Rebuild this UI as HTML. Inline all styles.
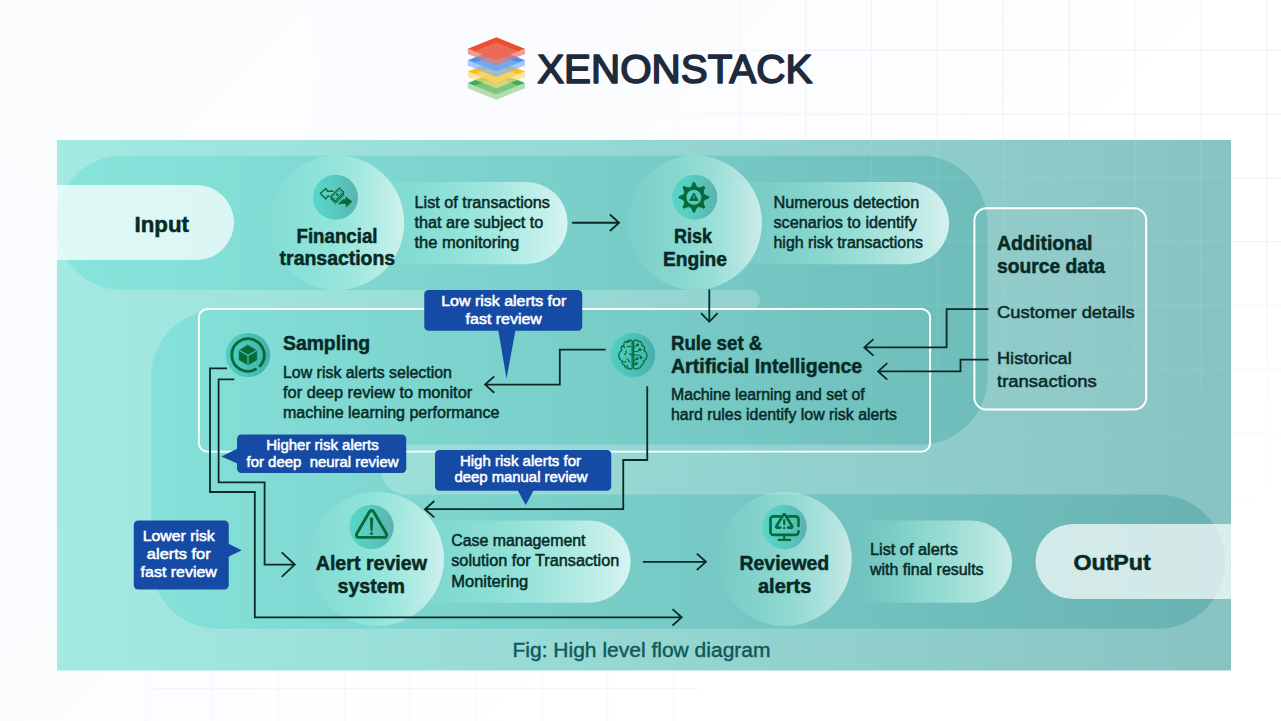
<!DOCTYPE html>
<html lang="en">
<head>
<meta charset="utf-8">
<title>High level flow diagram</title>
<style>
  html, body { margin: 0; padding: 0; }
  body { width: 1281px; height: 721px; overflow: hidden; background: linear-gradient(135deg, #f9fbfe 0%, #fbfcfe 35%, #ffffff 62%, #ffffff 100%); font-family: "Liberation Sans", sans-serif; }
  svg { display: block; position: absolute; left: 0; top: 0; }
  text { font-family: "Liberation Sans", sans-serif; }
  .h { font-weight: bold; font-size: 19.8px; fill: #072a27; stroke: #072a27; stroke-width: 0.5px; }
  .d { font-size: 15.6px; fill: #072b28; stroke: #072b28; stroke-width: 0.5px; }
  .s { font-size: 17.2px; fill: #072b28; stroke: #072b28; stroke-width: 0.5px; }
  .c { font-size: 15.2px; fill: #ffffff; stroke: #ffffff; stroke-width: 0.55px; }
  .io { font-weight: bold; font-size: 21.5px; fill: #072a27; stroke: #072a27; stroke-width: 0.5px; }
  .ln { fill: none; stroke: #0b2a27; stroke-width: 1.8; stroke-linejoin: miter; }
  .ic { fill: none; stroke: #066a39; stroke-linecap: round; stroke-linejoin: round; }
</style>
</head>
<body>
<svg width="1281" height="721" viewBox="0 0 1281 721">
  <defs>
    <linearGradient id="gPanel" gradientUnits="userSpaceOnUse" x1="57" y1="0" x2="1231" y2="0">
      <stop offset="0" stop-color="#a3eae2"/>
      <stop offset="1" stop-color="#88c3c2"/>
    </linearGradient>
    <linearGradient id="gBand" gradientUnits="userSpaceOnUse" x1="57" y1="0" x2="1231" y2="0">
      <stop offset="0" stop-color="#87e5dc"/>
      <stop offset="1" stop-color="#68b2b1"/>
    </linearGradient>
    <linearGradient id="gNode" x1="0" y1="0" x2="1" y2="0">
      <stop offset="0" stop-color="#b9ffee" stop-opacity="0.04"/>
      <stop offset="0.45" stop-color="#b9ffee" stop-opacity="0.3"/>
      <stop offset="1" stop-color="#ffffff" stop-opacity="0.62"/>
    </linearGradient>
    <linearGradient id="gPill" x1="0" y1="0" x2="1" y2="0">
      <stop offset="0" stop-color="#98f5e0" stop-opacity="0"/>
      <stop offset="0.22" stop-color="#98f5e0" stop-opacity="0.1"/>
      <stop offset="0.6" stop-color="#bffcef" stop-opacity="0.44"/>
      <stop offset="1" stop-color="#f4fffd" stop-opacity="0.78"/>
    </linearGradient>
    <linearGradient id="gIcon" x1="0" y1="0" x2="1" y2="0">
      <stop offset="0" stop-color="#58d6c8"/>
      <stop offset="0.45" stop-color="#58cbc0"/>
      <stop offset="1" stop-color="#5bb3ae"/>
    </linearGradient>
    <linearGradient id="gIcon2" x1="0" y1="0" x2="1" y2="0">
      <stop offset="0" stop-color="#50cfc2"/>
      <stop offset="0.45" stop-color="#4bc4b9"/>
      <stop offset="1" stop-color="#44b0aa"/>
    </linearGradient>
    <linearGradient id="gPill4" x1="0" y1="0" x2="1" y2="0">
      <stop offset="0" stop-color="#98f5e0" stop-opacity="0"/>
      <stop offset="0.32" stop-color="#98f5e0" stop-opacity="0"/>
      <stop offset="0.62" stop-color="#b4fbea" stop-opacity="0.42"/>
      <stop offset="1" stop-color="#effffb" stop-opacity="0.72"/>
    </linearGradient>
    <clipPath id="cpPanel"><rect x="57" y="140" width="1174" height="530.5"/></clipPath>
  </defs>

  <!-- faint page grid -->
  <defs>
    <radialGradient id="gGridFade" gradientUnits="userSpaceOnUse" cx="1060" cy="90" r="470">
      <stop offset="0" stop-color="#fff" stop-opacity="1"/>
      <stop offset="0.6" stop-color="#fff" stop-opacity="0.8"/>
      <stop offset="1" stop-color="#fff" stop-opacity="0"/>
    </radialGradient>
    <mask id="mGrid"><rect x="0" y="0" width="1281" height="721" fill="url(#gGridFade)"/></mask>
  </defs>
  <g stroke="#eef2fb" stroke-width="1.2" fill="none" mask="url(#mGrid)">
    <path d="M146.6 0V721M212.5 0V721M278.4 0V721M344.3 0V721M410.2 0V721M476.1 0V721M542.0 0V721M607.9 0V721M673.8 0V721M739.7 0V721M805.6 0V721M871.5 0V721M937.4 0V721M1003.3 0V721M1069.2 0V721M1135.1 0V721M1201.0 0V721M1266.9 0V721"/>
    <path d="M0 50.1H1281M0 114.0H1281M0 177.8H1281M0 241.7H1281M0 305.5H1281M0 369.4H1281M0 433.2H1281M0 497.1H1281M0 560.9H1281M0 624.8H1281M0 688.6H1281"/>
  </g>

  <g stroke="#f3f6fc" stroke-width="1" fill="none">
    <path d="M146.6 671V721M212.5 671V721M278.4 671V721M344.3 671V721M410.2 671V721M476.1 671V721M542.0 671V721M607.9 671V721M673.8 671V721M148 688.6H700"/>
  </g>
  <circle cx="150" cy="70" r="170" fill="#ffffff" fill-opacity="0.4"/>
  <!-- panel -->
  <rect x="57" y="140" width="1174" height="530.5" fill="url(#gPanel)"/>

  <g clip-path="url(#cpPanel)">
    <!-- snake band -->
    <path fill="url(#gBand)" d="M122.75 155.75 H920.5 A67 67 0 0 1 987.5 222.75 V377.5 A67 67 0 0 1 920.5 444.5 H406 A25 25 0 0 0 406 494.5 H1158 A67.1 67.1 0 0 1 1158 628.75 H218 A67 67 0 0 1 151 561.75 V377 A67 67 0 0 1 218 310 H750 A10 10 0 0 0 750 290 H122.75 A67.1 67.1 0 0 1 122.75 155.75 Z"/>

    <!-- description pills -->
    <path fill="url(#gPill)" d="M337 182 H526.5 A41.1 41.1 0 0 1 526.5 264.25 H337 Z"/>
    <path fill="url(#gPill)" d="M694 182 H908 A41.1 41.1 0 0 1 908 264.25 H694 Z"/>
    <path fill="url(#gPill)" d="M377 520.5 H589.5 A41.1 41.1 0 0 1 589.5 602.75 H377 Z"/>
    <path fill="url(#gPill4)" d="M785 520.5 H971 A41.1 41.1 0 0 1 971 602.75 H785 Z"/>

    <!-- node circles -->
    <circle cx="337" cy="222.75" r="67.2" fill="url(#gNode)"/>
    <circle cx="694.75" cy="222.75" r="67.2" fill="url(#gNode)"/>
    <circle cx="377" cy="559" r="67" fill="url(#gNode)"/>
    <circle cx="784.75" cy="559" r="67" fill="url(#gNode)"/>

    <!-- input / output pills -->
    <path fill="#ffffff" fill-opacity="0.72" d="M50 185 H196.5 A37.5 37.5 0 0 1 196.5 260 H50 Z"/>
    <path fill="#ffffff" fill-opacity="0.7" d="M1240 524 H1073 A37.5 37.5 0 0 0 1073 599 H1240 Z"/>
  </g>

  <defs>
    <radialGradient id="gGridFade2" gradientUnits="userSpaceOnUse" cx="1120" cy="140" r="420">
      <stop offset="0" stop-color="#fff" stop-opacity="1"/>
      <stop offset="0.5" stop-color="#fff" stop-opacity="0.8"/>
      <stop offset="1" stop-color="#fff" stop-opacity="0"/>
    </radialGradient>
    <mask id="mGrid2"><rect x="57" y="140" width="1174" height="530.5" fill="url(#gGridFade2)"/></mask>
  </defs>
  <g stroke="#c8f4f4" stroke-opacity="0.13" stroke-width="1.3" fill="none" mask="url(#mGrid2)">
    <path d="M146.6 0V721M212.5 0V721M278.4 0V721M344.3 0V721M410.2 0V721M476.1 0V721M542.0 0V721M607.9 0V721M673.8 0V721M739.7 0V721M805.6 0V721M871.5 0V721M937.4 0V721M1003.3 0V721M1069.2 0V721M1135.1 0V721M1201.0 0V721M1266.9 0V721"/>
    <path d="M0 50.1H1281M0 114.0H1281M0 177.8H1281M0 241.7H1281M0 305.5H1281M0 369.4H1281M0 433.2H1281M0 497.1H1281M0 560.9H1281M0 624.8H1281M0 688.6H1281"/>
  </g>
  <!-- boxes -->
  <rect x="198.9" y="309" width="731.2" height="142.6" rx="8.5" ry="8.5" fill="none" stroke="#ffffff" stroke-width="1.9"/>
  <rect x="974.4" y="208.2" width="171.8" height="201.3" rx="12" ry="12" fill="#ffffff" fill-opacity="0.035" stroke="#ffffff" stroke-width="2"/>

  <circle cx="335.5" cy="197.3" r="22.5" fill="url(#gIcon)"/>
  <circle cx="694.7" cy="197.3" r="22.5" fill="url(#gIcon)"/>
  <circle cx="248" cy="355" r="22.1" fill="url(#gIcon2)"/>
  <circle cx="633" cy="355" r="22.1" fill="url(#gIcon2)"/>
  <circle cx="371.5" cy="527" r="22.2" fill="url(#gIcon)"/>
  <circle cx="784.5" cy="527" r="22.2" fill="url(#gIcon)"/>
  <g class="ic" stroke-width="1.4">
    <path d="M333 191.3 H327.6 L325.9 188.4 L320.3 193.5 L325.9 199 L327.6 196.2 H329.2"/>
    <path d="M338.6 203.7 L343 199.5 H345.7 V196.9 L351.9 201.6 L346.2 207.1 L346 203.7 Z" fill="#066a39" stroke-width="0.6"/>
    <g transform="translate(337.2 194.6)">
      <g transform="translate(0.5 2.7) rotate(-45.5)"><rect x="-6.2" y="-3.1" width="12.4" height="6.2" rx="0.5" fill="#57cbc0" stroke-width="0.9"/></g>
      <g transform="translate(0.25 1.35) rotate(-45.5)"><rect x="-6.2" y="-3.1" width="12.4" height="6.2" rx="0.5" fill="#57cbc0" stroke-width="0.9"/></g>
      <g transform="rotate(-45.5)">
        <rect x="-6.2" y="-3.1" width="12.4" height="6.2" rx="0.5" fill="#57cbc0" stroke-width="1.25"/>
        <rect x="-4.3" y="-1.6" width="8.6" height="3.2" stroke-width="0.6" stroke-opacity="0.85"/>
        <circle cx="0" cy="0" r="1.2" fill="#066a39" stroke="none"/>
      </g>
    </g>
  </g>
  <path d="M693.25 182.41 L694.55 182.41 Q695.41 185.80 697.77 187.97 Q700.96 188.10 703.97 186.31 L704.89 187.23 Q703.10 190.24 703.23 193.43 Q705.40 195.79 708.79 196.65 L708.79 197.95 Q705.40 198.81 703.23 201.17 Q703.10 204.36 704.89 207.37 L703.97 208.29 Q700.96 206.50 697.77 206.63 Q695.41 208.80 694.55 212.19 L693.25 212.19 Q692.39 208.80 690.03 206.63 Q686.84 206.50 683.83 208.29 L682.91 207.37 Q684.70 204.36 684.57 201.17 Q682.40 198.81 679.01 197.95 L679.01 196.65 Q682.40 195.79 684.57 193.43 Q684.70 190.24 682.91 187.23 L683.83 186.31 Q686.84 188.10 690.03 187.97 Q692.39 185.80 693.25 182.41 Z M701.80 197.30 A7.9 7.9 0 1 0 686.00 197.30 A7.9 7.9 0 1 0 701.80 197.30 Z" fill="#066a39" fill-rule="evenodd" stroke="#066a39" stroke-width="0.9" stroke-linejoin="round"/>
  <path d="M693.90 193.00 L698.20 200.40 H689.60 Z" fill="#066a39" stroke="#066a39" stroke-width="1" stroke-linejoin="round"/>
  <path d="M693.90 195.10 V198.90" stroke="#4fae8c" stroke-width="1.1" fill="none"/>
  <g class="ic">
    <path d="M255.6 369.3 A16.2 16.2 0 1 1 260.04 365.84" stroke-width="2.8"/>
    <path d="M247.6 345.3 L256.8 350.5 V359.9 L248 365.1 L239.2 359.9 V350.5 Z" fill="#066a39" stroke-width="0.6"/>
    <path d="M239.2 350.3 L248 355.4 L256.8 350.3 M248 355.4 V365.3" stroke="#4ec6bb" stroke-width="1.1" stroke-linecap="butt"/>
  </g>
  <g class="ic" stroke-width="1.25">
    <path d="M632.15 340.90 A3.4 3.4 0 0 0 627.31 341.60 A2.8 2.8 0 0 0 623.96 345.30 A2.9 2.9 0 0 0 622.06 350.30 A6.0 6.0 0 0 0 622.41 361.10 A2.6 2.6 0 0 0 624.64 365.00 A2.6 2.6 0 0 0 627.74 368.10 A3.1 3.1 0 0 0 632.15 368.30 Z"/>
    <path d="M633.65 340.90 A3.4 3.4 0 0 1 638.49 341.60 A2.8 2.8 0 0 1 641.84 345.30 A2.9 2.9 0 0 1 643.74 350.30 A6.0 6.0 0 0 1 643.39 361.10 A2.6 2.6 0 0 1 641.16 365.00 A2.6 2.6 0 0 1 638.06 368.10 A3.1 3.1 0 0 1 633.65 368.30 Z"/>
    <path d="M626.8 342.6 q1.2 -1.6 2.8 -0.8 M627.2 346.2 q1.6 0.8 3.2 0 M622.8 346.6 q1.5 -0.3 2.2 1.1 M626.2 350.8 q0.5 2.4 -1.5 3.8 M629.6 353.6 q1.3 1.5 2.8 1.3 M626.8 359 q2 0.6 2.8 3.2 M623.6 362 q1.5 0.3 2.4 -0.5 M626 366 q1.4 -0.1 2 1.1"/>
    <path d="M633.7 347.2 q2.4 -0.6 3.2 -2.2 M633.7 351.5 h3.2 q1.5 0 2.1 -1.4 M633.7 355 h5 q1.3 0 1.9 1.6 M633.7 360.3 q1.9 -0.2 2.7 -1.2 M633.7 364.6 q1.5 -0.1 2.1 -0.9" stroke-width="1.1"/>
    <circle cx="637.6" cy="344.7" r="0.9"/><circle cx="640" cy="349.5" r="0.9"/><circle cx="641" cy="357.6" r="0.9"/><circle cx="637.1" cy="358.6" r="0.9"/><circle cx="636.4" cy="363.4" r="0.9"/>
  </g>
  <g class="ic">
    <path d="M358.80 537.35 H384.30 A2.4 2.4 0 0 0 386.38 533.75 L373.63 511.67 A2.4 2.4 0 0 0 369.47 511.67 L356.72 533.75 A2.4 2.4 0 0 0 358.80 537.35 Z" stroke-width="2.9"/>
    <path d="M370.5 518.2 H372.6 L371.95 530.6 H371.15 Z" fill="#066a39" stroke-width="1.3"/>
    <circle cx="371.55" cy="533.5" r="1.55" fill="#066a39" stroke="none"/>
  </g>
  <g class="ic" stroke-width="2.6">
    <path d="M780.2 516.4 H773.4 A2.9 2.9 0 0 0 770.5 519.3 V532 A2.9 2.9 0 0 0 773.4 534.9 H795.6 A2.9 2.9 0 0 0 798.5 532 V531.2 M798.5 525.9 V519.3 A2.9 2.9 0 0 0 795.6 516.4 H788.3"/>
    <path d="M780.3 527.6 H777 A0.9 0.9 0 0 1 776.3 526.3 L783.4 514.8 A0.95 0.95 0 0 1 785 514.8 L792.2 526.3 A0.9 0.9 0 0 1 791.5 527.6 H788.2"/>
    <path d="M784.2 520 V524.2" stroke-width="2.2"/>
    <circle cx="784.2" cy="527.9" r="1.2" fill="#066a39" stroke="none"/>
    <path d="M784.2 535 V539.8 M778.6 539.9 H790.2" stroke-width="2.2"/>
  </g>
  <g class="ln">
    <path d="M572.1 222.75 H619.1 M609.9 214.5 L619.1 222.75 L609.9 231"/>
    <path d="M709.3 289.5 V321.8 M701 313.2 L709.3 321.8 L717.6 313.2"/>
    <path d="M988.6 309.1 H946.6 V347.4 H864.3 M873.5 339.2 L864.3 347.4 L873.5 355.6"/>
    <path d="M988.6 359.7 H960.5 V371.4 H878.1 M887.3 363.2 L878.1 371.4 L887.3 379.6"/>
    <path d="M605.6 349.7 H559.8 V384.6 H485 M494.3 376.4 L485 384.6 L494.3 392.8"/>
    <path d="M647.25 386.25 V460 H623.25 V509.2 H425 M434.3 501 L425 509.2 L434.3 517.4"/>
    <path d="M227 368.4 H210 V492 H254.8 V617.3 H681.7 M672.5 609.1 L681.7 617.3 L672.5 625.5"/>
    <path d="M234.25 379.3 H218.6 V482.4 H264.6 V564.6 H294.8 M281.7 552.4 L294.8 564.6 L281.7 576.9"/>
    <path d="M642.9 561.8 H706 M696.8 553.6 L706 561.8 L696.8 570"/>
  </g>
  <g fill="#164ba5">
    <rect x="424.25" y="290" width="158" height="40.75" rx="4.5"/>
    <path d="M498.25 330 L515.5 330 L506.5 378.75 Z"/>
    <rect x="237" y="434.5" width="169.25" height="38.5" rx="4.5"/>
    <path d="M238 448.3 L238 463.8 L221.4 456.4 Z"/>
    <rect x="435" y="450" width="176.25" height="40.75" rx="4.5"/>
    <path d="M517.5 490 L533.75 490 L525.75 505 Z"/>
    <rect x="133.75" y="520.5" width="95" height="69" rx="4.5"/>
    <path d="M228 543.5 L228 557 L241.75 550.25 Z"/>
  </g>
  <text class="io" x="134.50" y="231.75" textLength="54.50" lengthAdjust="spacingAndGlyphs">Input</text>
  <text class="h" x="296.50" y="242.70" textLength="81.00" lengthAdjust="spacingAndGlyphs">Financial</text>
  <text class="h" x="279.60" y="265.00" textLength="115.60" lengthAdjust="spacingAndGlyphs">transactions</text>
  <text class="h" x="674.00" y="243.00" textLength="38.00" lengthAdjust="spacingAndGlyphs">Risk</text>
  <text class="h" x="663.00" y="265.75" textLength="64.00" lengthAdjust="spacingAndGlyphs">Engine</text>
  <text class="h" x="283.00" y="350.30" textLength="87.00" lengthAdjust="spacingAndGlyphs">Sampling</text>
  <text class="h" x="671.00" y="350.00" textLength="91.25" lengthAdjust="spacingAndGlyphs">Rule set &amp;</text>
  <text class="h" x="671.00" y="372.80" textLength="191.25" lengthAdjust="spacingAndGlyphs">Artificial Intelligence</text>
  <text class="h" x="997.00" y="250.00" textLength="95.50" lengthAdjust="spacingAndGlyphs">Additional</text>
  <text class="h" x="997.00" y="272.60" textLength="108.00" lengthAdjust="spacingAndGlyphs">source data</text>
  <text class="h" x="315.75" y="570.00" textLength="111.25" lengthAdjust="spacingAndGlyphs">Alert review</text>
  <text class="h" x="337.50" y="593.00" textLength="67.50" lengthAdjust="spacingAndGlyphs">system</text>
  <text class="h" x="739.50" y="570.00" textLength="89.75" lengthAdjust="spacingAndGlyphs">Reviewed</text>
  <text class="h" x="758.00" y="593.00" textLength="53.25" lengthAdjust="spacingAndGlyphs">alerts</text>
  <text class="io" x="1073.40" y="569.80" textLength="77.40" lengthAdjust="spacingAndGlyphs">OutPut</text>
  <text class="d" x="414.50" y="208.25" textLength="135.50" lengthAdjust="spacingAndGlyphs">List of transactions</text>
  <text class="d" x="414.50" y="228.25" textLength="128.75" lengthAdjust="spacingAndGlyphs">that are subject to</text>
  <text class="d" x="414.50" y="248.25" textLength="104.75" lengthAdjust="spacingAndGlyphs">the monitoring</text>
  <text class="d" x="773.50" y="208.25" textLength="145.75" lengthAdjust="spacingAndGlyphs">Numerous detection</text>
  <text class="d" x="773.50" y="228.25" textLength="143.25" lengthAdjust="spacingAndGlyphs">scenarios to identify</text>
  <text class="d" x="773.50" y="248.25" textLength="149.50" lengthAdjust="spacingAndGlyphs">high risk transactions</text>
  <text class="d" x="283.00" y="377.50" textLength="168.90" lengthAdjust="spacingAndGlyphs">Low risk alerts selection</text>
  <text class="d" x="283.00" y="397.50" textLength="189.20" lengthAdjust="spacingAndGlyphs">for deep review to monitor</text>
  <text class="d" x="283.00" y="417.50" textLength="216.40" lengthAdjust="spacingAndGlyphs">machine learning performance</text>
  <text class="d" x="671.00" y="400.20" textLength="193.75" lengthAdjust="spacingAndGlyphs">Machine learning and set of</text>
  <text class="d" x="671.00" y="420.20" textLength="226.00" lengthAdjust="spacingAndGlyphs">hard rules identify low risk alerts</text>
  <text class="d" x="451.25" y="546.25" textLength="134.25" lengthAdjust="spacingAndGlyphs">Case management</text>
  <text class="d" x="451.25" y="566.25" textLength="168.00" lengthAdjust="spacingAndGlyphs">solution for Transaction</text>
  <text class="d" x="451.25" y="586.50" textLength="77.00" lengthAdjust="spacingAndGlyphs">Monitering</text>
  <text class="d" x="870.00" y="555.00" textLength="87.80" lengthAdjust="spacingAndGlyphs">List of alerts</text>
  <text class="d" x="870.00" y="575.00" textLength="113.60" lengthAdjust="spacingAndGlyphs">with final results</text>
  <text class="s" x="997.00" y="317.60" textLength="137.70" lengthAdjust="spacingAndGlyphs">Customer details</text>
  <text class="s" x="997.00" y="364.00" textLength="74.70" lengthAdjust="spacingAndGlyphs">Historical</text>
  <text class="s" x="997.00" y="386.80" textLength="99.70" lengthAdjust="spacingAndGlyphs">transactions</text>
  <text class="d" x="512.50" y="656.75" textLength="258.00" lengthAdjust="spacingAndGlyphs" style="font-size:20px;fill:#0e5957;stroke:#0e5957;stroke-width:0.4px">Fig: High level flow diagram</text>
  <text class="c" x="441.25" y="305.75" textLength="125.00" lengthAdjust="spacingAndGlyphs">Low risk alerts for</text>
  <text class="c" x="465.62" y="323.75" textLength="76.25" lengthAdjust="spacingAndGlyphs">fast review</text>
  <text class="c" x="266.25" y="450.00" textLength="112.50" lengthAdjust="spacingAndGlyphs">Higher risk alerts</text>
  <text class="c" x="246.50" y="467.00" textLength="152.00" lengthAdjust="spacingAndGlyphs" xml:space="preserve">for deep  neural review</text>
  <text class="c" x="459.88" y="466.25" textLength="121.25" lengthAdjust="spacingAndGlyphs">High risk alerts for</text>
  <text class="c" x="454.38" y="481.75" textLength="133.25" lengthAdjust="spacingAndGlyphs">deep manual review</text>
  <text class="c" x="142.75" y="541.25" textLength="72.00" lengthAdjust="spacingAndGlyphs">Lower risk</text>
  <text class="c" x="146.88" y="559.25" textLength="63.75" lengthAdjust="spacingAndGlyphs">alerts for</text>
  <text class="c" x="140.62" y="577.00" textLength="76.25" lengthAdjust="spacingAndGlyphs">fast review</text>
  <text x="537.2" y="83.1" textLength="275.2" lengthAdjust="spacingAndGlyphs" style="font-weight:normal;font-size:39.8px;fill:#1f2a3d;stroke:#1f2a3d;stroke-width:1.6px;stroke-linejoin:round">XENONSTACK</text>
  <g>
    <path d="M496.4 71.6 L525.0 83 L496.4 94.4 L467.8 83 Z" fill="#2aaa45" fill-opacity="0.93"/>
    <path d="M467.8 83 L474.45 85.65 L496.4 76.9 L518.35 85.65 L525.0 83 V88.3 L496.4 99.7 L467.8 88.3 Z" fill="#98d092" fill-opacity="0.7"/>
    <path d="M496.4 60.2 L525.0 71.6 L496.4 83.0 L467.8 71.6 Z" fill="#fbbb0b" fill-opacity="0.93"/>
    <path d="M467.8 71.6 L474.45 74.25 L496.4 65.5 L518.35 74.25 L525.0 71.6 V76.9 L496.4 88.3 L467.8 76.9 Z" fill="#fcdc7b" fill-opacity="0.7"/>
    <path d="M496.4 48.8 L525.0 60.2 L496.4 71.6 L467.8 60.2 Z" fill="#3f86f6" fill-opacity="0.93"/>
    <path d="M467.8 60.2 L474.45 62.85 L496.4 54.1 L518.35 62.85 L525.0 60.2 V65.5 L496.4 76.9 L467.8 65.5 Z" fill="#82b3f8" fill-opacity="0.7"/>
    <path d="M496.4 37.3 L525.0 48.7 L496.4 60.1 L467.8 48.7 Z" fill="#e9421f" fill-opacity="0.93"/>
    <path d="M467.8 48.7 L474.45 51.35 L496.4 42.6 L518.35 51.35 L525.0 48.7 V54.0 L496.4 65.4 L467.8 54.0 Z" fill="#ed7865" fill-opacity="0.7"/>
  </g>
</svg>
</body>
</html>
